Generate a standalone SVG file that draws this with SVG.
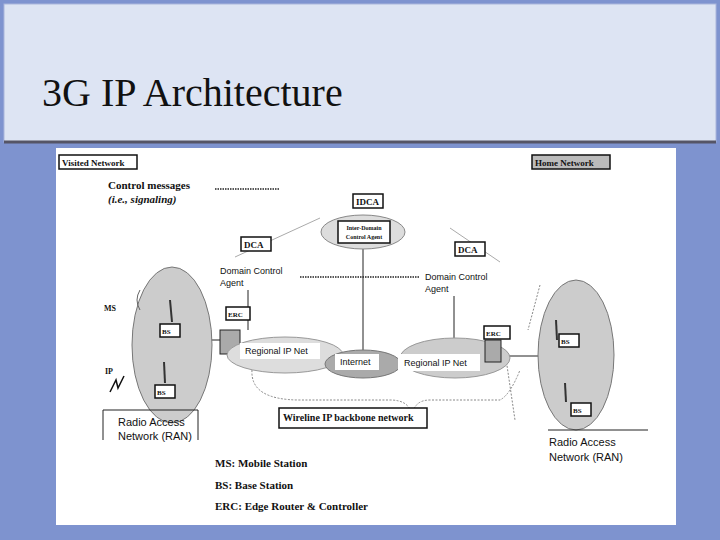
<svg xmlns="http://www.w3.org/2000/svg" width="720" height="540" viewBox="0 0 720 540">
<style>
.s{font-family:"Liberation Serif",serif;font-weight:bold;fill:#111}
.a{font-family:"Liberation Sans",sans-serif;fill:#111}
.bx{fill:#fff;stroke:#111;stroke-width:1.5}
.gb{fill:#bbb;stroke:#111;stroke-width:1.5}
.ln{stroke:#222;stroke-width:1;fill:none}
.dt{stroke:#222;stroke-width:1.5;stroke-dasharray:1.5 1;fill:none}
.dg{stroke:#888;stroke-width:1;stroke-dasharray:2 1.5;fill:none}
</style>
<rect width="720" height="540" fill="#7e93cf"/>
<rect x="4" y="4" width="712" height="138" fill="#dde4f3" stroke="#aab6dc"/>
<line x1="4" y1="142" x2="716" y2="142" stroke="#556" stroke-width="3"/>
<text x="42" y="106" font-family="Liberation Serif,serif" font-size="40" fill="#111">3G IP Architecture</text>
<rect x="56" y="148" width="620" height="377" fill="#fff"/>
<g id="labels">
<rect x="59" y="155" width="78" height="14" class="bx" fill="#eee"/><text x="62" y="166" class="s" font-size="9">Visited Network</text>
<rect x="532" y="155" width="78" height="14" class="gb" fill="#ccc"/><text x="535" y="166" class="s" font-size="9">Home Network</text>
<text x="108" y="189" class="s" font-size="11">Control messages</text>
<text x="108" y="203" class="s" font-size="11" font-style="italic">(i.e., signaling)</text>
<line x1="215" y1="189" x2="280" y2="189" class="dt"/>
</g>
<g id="connectors">
<line x1="235" y1="257" x2="320" y2="218" stroke="#aaa"/>
<line x1="450" y1="228" x2="500" y2="262" stroke="#aaa"/>
<line x1="300" y1="277" x2="420" y2="277" class="dt"/>
<line x1="363" y1="235" x2="363" y2="352" class="ln"/>
<line x1="248" y1="290" x2="248" y2="330" class="ln"/>
<line x1="454" y1="296" x2="454" y2="338" class="ln"/>
<line x1="180" y1="340" x2="220" y2="340" class="ln"/>
<line x1="500" y1="356" x2="545" y2="356" class="ln"/>
<path d="M252 370 Q250 400 300 400 L390 400 Q410 400 412 416 Q414 400 430 400 L500 400 Q510 395 520 370" class="dg"/>
<line x1="505" y1="352" x2="515" y2="420" class="dg"/>
<line x1="540" y1="285" x2="528" y2="330" class="dg"/>
</g>
<g id="idca">
<rect x="353" y="194" width="30" height="14" class="bx"/><text x="356" y="205" class="s" font-size="9">IDCA</text>
<ellipse cx="363" cy="232" rx="42" ry="17" fill="#ddd" stroke="#888"/>
<rect x="338" y="221" width="52" height="22" class="bx" fill="#ccc"/>
<text x="364" y="230" class="s" font-size="6" text-anchor="middle">Inter-Domain</text>
<text x="364" y="239" class="s" font-size="6" text-anchor="middle">Control Agent</text>
</g>
<g id="dca-left">
<rect x="241" y="237" width="30" height="14" class="bx"/><text x="244" y="248" class="s" font-size="9">DCA</text>
<text x="220" y="274" class="a" font-size="9">Domain Control</text>
<text x="220" y="286" class="a" font-size="9">Agent</text>
</g>
<g id="dca-right">
<rect x="455" y="242" width="30" height="14" class="bx"/><text x="458" y="253" class="s" font-size="9">DCA</text>
<text x="425" y="280" class="a" font-size="9">Domain Control</text>
<text x="425" y="292" class="a" font-size="9">Agent</text>
</g>
<g id="ran-left">
<ellipse cx="172" cy="345" rx="40" ry="78" fill="#ccc" stroke="#777"/>
<path d="M140 290 q-6 10 0 20" stroke="#666" fill="none"/>
<text x="104" y="311" class="s" font-size="8">MS</text>
<rect x="160" y="324" width="20" height="13" class="bx"/><text x="162" y="334" class="s" font-size="7">BS</text>
<rect x="155" y="385" width="20" height="13" class="bx"/><text x="157" y="395" class="s" font-size="7">BS</text>
<text x="105" y="374" class="s" font-size="8">IP</text>
<path d="M110 392 l6 -12 l2 8 l6 -12" stroke="#111" fill="none" stroke-width="1.5"/>
<line x1="170" y1="300" x2="172" y2="322" stroke="#333" stroke-width="2"/>
<line x1="164" y1="362" x2="165" y2="383" stroke="#333" stroke-width="2"/>
<path d="M103 440 L103 410 L198 410 L198 440" class="ln"/>
<text x="118" y="426" class="a" font-size="11">Radio Access</text>
<text x="118" y="440" class="a" font-size="11">Network (RAN)</text>
</g>
<g id="erc-left">
<rect x="226" y="307" width="24" height="13" class="bx"/><text x="228" y="317" class="s" font-size="7">ERC</text>
<rect x="220" y="330" width="20" height="24" fill="#aaa" stroke="#222"/>
</g>
<g id="regional-left">
<ellipse cx="285" cy="355" rx="58" ry="18" fill="#ddd" stroke="#999"/>
<rect x="240" y="343" width="80" height="16" fill="#fff"/>
<text x="245" y="354" class="a" font-size="9">Regional IP Net</text>
</g>
<g id="internet">
<ellipse cx="363" cy="364" rx="38" ry="14" fill="#aaa" stroke="#777"/>
<rect x="335" y="354" width="44" height="16" fill="#fff"/>
<text x="340" y="365" class="a" font-size="9">Internet</text>
</g>
<g id="regional-right">
<ellipse cx="455" cy="358" rx="55" ry="20" fill="#ccc" stroke="#999"/>
<rect x="398" y="354" width="82" height="17" fill="#fff"/>
<text x="404" y="366" class="a" font-size="9">Regional IP Net</text>
</g>
<g id="erc-right">
<rect x="484" y="326" width="26" height="13" class="bx"/><text x="486" y="336" class="s" font-size="7">ERC</text>
<rect x="485" y="340" width="16" height="22" fill="#aaa" stroke="#222"/>
</g>
<g id="ran-right">
<ellipse cx="576" cy="355" rx="38" ry="75" fill="#ccc" stroke="#777"/>
<rect x="559" y="334" width="20" height="13" class="bx"/><text x="561" y="344" class="s" font-size="7">BS</text>
<rect x="571" y="403" width="20" height="13" class="bx"/><text x="573" y="413" class="s" font-size="7">BS</text>
<line x1="556" y1="320" x2="557" y2="340" stroke="#333" stroke-width="2"/>
<line x1="565" y1="383" x2="566" y2="402" stroke="#333" stroke-width="2"/>
<line x1="548" y1="430" x2="648" y2="430" class="ln"/>
<text x="549" y="446" class="a" font-size="11">Radio Access</text>
<text x="549" y="461" class="a" font-size="11">Network (RAN)</text>
</g>
<g id="backbone">
<rect x="279" y="408" width="148" height="20" class="bx"/>
<text x="283" y="421" class="s" font-size="10">Wireline IP backbone network</text>
</g>
<g id="legend">
<text x="215" y="467" class="s" font-size="11">MS: Mobile Station</text>
<text x="215" y="489" class="s" font-size="11">BS: Base Station</text>
<text x="215" y="510" class="s" font-size="11">ERC: Edge Router &amp; Controller</text>
</g>
</svg>
